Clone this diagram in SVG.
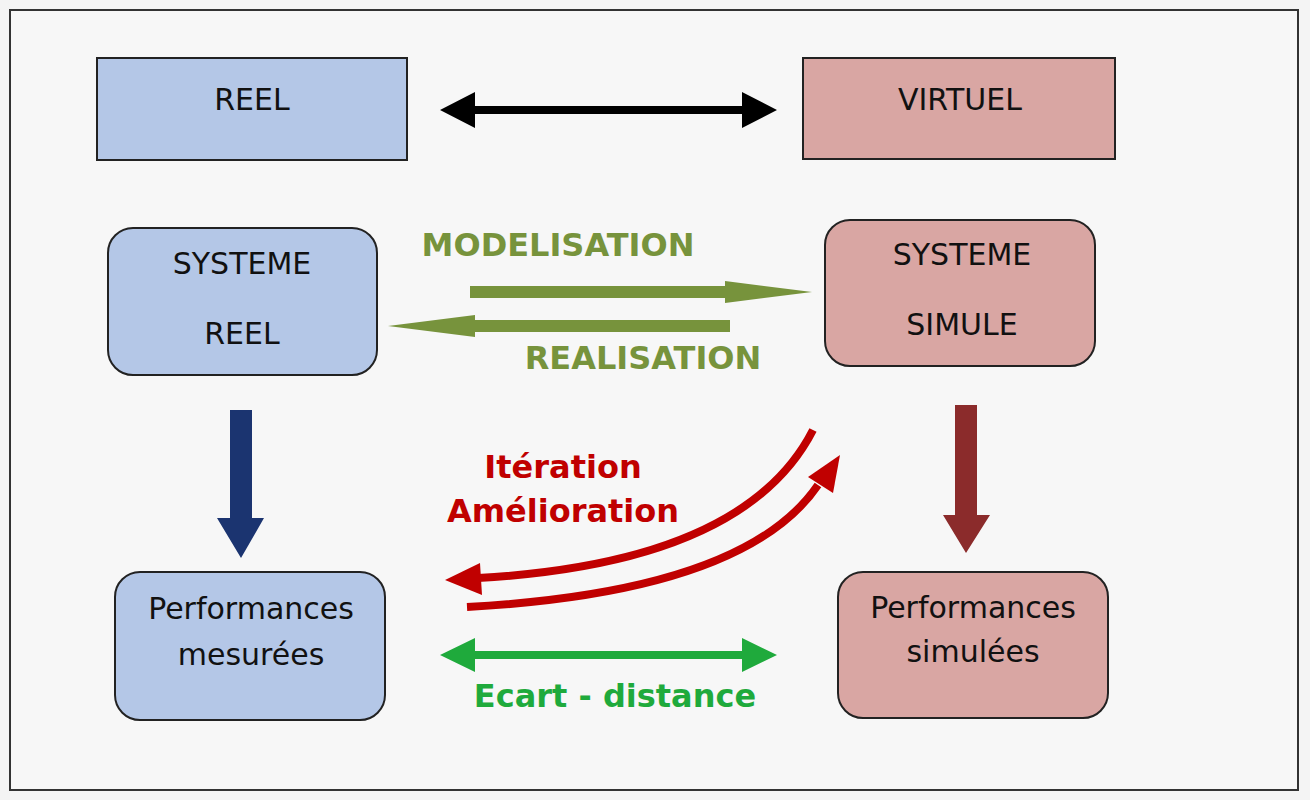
<svg xmlns="http://www.w3.org/2000/svg" width="1310" height="800" viewBox="0 0 1310 800">
<style>
.b{fill:#b4c7e7;stroke:#222;stroke-width:2}
.p{fill:#d9a6a3;stroke:#222;stroke-width:2}
.t{font-family:"DejaVu Sans",Verdana,sans-serif;font-size:30px;fill:#111;text-anchor:middle}
.l{font-family:"DejaVu Sans",Verdana,sans-serif;font-size:32px;font-weight:bold;text-anchor:middle}
</style>
<rect x="0" y="0" width="1310" height="800" fill="#f4f4f4"/>
<rect x="10" y="10" width="1288" height="780" fill="#f7f7f7" stroke="#333" stroke-width="2"/>
<g id="reel"><rect class="b" x="97" y="58" width="310" height="102"/><text class="t" x="252" y="110">REEL</text></g>
<g id="virtuel"><rect class="p" x="803" y="58" width="312" height="101"/><text class="t" x="960" y="110">VIRTUEL</text></g>
<g id="sysreel"><rect class="b" x="108" y="228" width="269" height="147" rx="25"/><text class="t" x="242" y="274">SYSTEME</text><text class="t" x="242" y="344">REEL</text></g>
<g id="syssim"><rect class="p" x="825" y="220" width="270" height="146" rx="25"/><text class="t" x="962" y="265">SYSTEME</text><text class="t" x="962" y="335">SIMULE</text></g>
<g id="perfmes"><rect class="b" x="115" y="572" width="270" height="148" rx="25"/><text class="t" x="251" y="619">Performances</text><text class="t" x="251" y="665">mesurées</text></g>
<g id="perfsim"><rect class="p" x="838" y="572" width="270" height="146" rx="25"/><text class="t" x="973" y="618">Performances</text><text class="t" x="973" y="662">simulées</text></g>
<g id="connectors">
<path d="M440,110 L475,92 L475,106 L742,106 L742,92 L777,110 L742,128 L742,114 L475,114 L475,128 Z" fill="#000"/>
<path d="M470,286 L725,286 L725,281 L812,292 L725,303 L725,298 L470,298 Z" fill="#77933c"/>
<path d="M730,320 L475,320 L475,315 L388,326 L475,337 L475,332 L730,332 Z" fill="#77933c"/>
<path d="M230,410 L252,410 L252,518 L264,518 L241,558 L217,518 L230,518 Z" fill="#1b3470"/>
<path d="M955,405 L977,405 L977,515 L990,515 L966,553 L943,515 L955,515 Z" fill="#8b2b2b"/>
<path d="M440,655 L475,638 L475,651 L742,651 L742,638 L777,655 L742,672 L742,659 L475,659 L475,672 Z" fill="#1faa3c"/>
<path d="M813,430 Q745,563 478,578" fill="none" stroke="#c00000" stroke-width="8"/>
<path d="M480,563 L445,580 L482,595 Z" fill="#c00000"/>
<path d="M467,607 Q745,592 818,485" fill="none" stroke="#c00000" stroke-width="8"/>
<path d="M808,477 L840,455 L833,493 Z" fill="#c00000"/>
<text class="l" x="558" y="256" fill="#77933c">MODELISATION</text>
<text class="l" x="643" y="369" fill="#77933c">REALISATION</text>
<text class="l" x="563" y="478" fill="#c00000">Itération</text>
<text class="l" x="563" y="522" fill="#c00000">Amélioration</text>
<text class="l" x="615" y="707" fill="#1faa3c">Ecart - distance</text>
</g>
</svg>
